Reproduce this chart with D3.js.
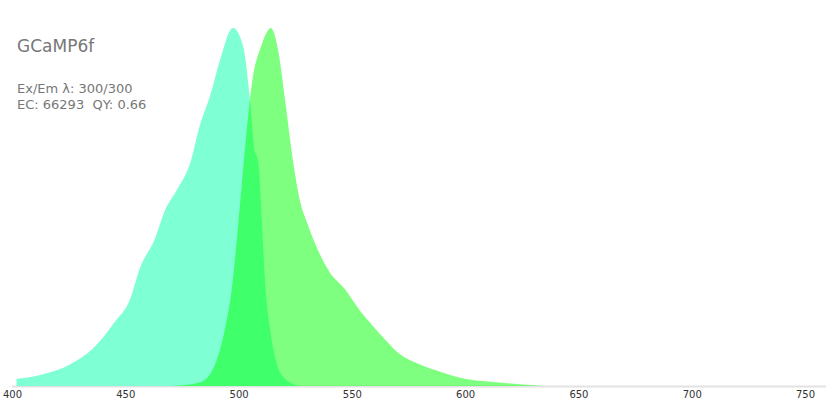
<!DOCTYPE html>
<html><head><meta charset="utf-8">
<script src="https://cdn.jsdelivr.net/npm/d3@7"></script>
<style>body{margin:0;background:#fff}text{font-family:"DejaVu Sans",sans-serif}</style>
</head><body><div id="chart"></div>
<script>
const exWl = [402,412,425.6,436.6,445.5,452,456.5,463,467.5,473,478.5,483,487.4,491.8,497.5,502,505,507,508.6,510.3,511.6,513.9,516.5,520.5,527];
const exVal = [0.02,0.03,0.06,0.11,0.18,0.24,0.33,0.41,0.49,0.55,0.62,0.73,0.81,0.91,1,0.95,0.80,0.66,0.63,0.46,0.30,0.16,0.07,0.02,0];
const emWl = [470,483,489.6,494,497,499.7,502.8,506,510,514.3,517.4,520.5,524,527,530.6,535,540,547,553.6,559,564.6,571,580,589,600,615,635];
const emVal = [0,0.01,0.06,0.16,0.27,0.44,0.66,0.85,0.95,1,0.94,0.80,0.63,0.52,0.45,0.38,0.32,0.27,0.21,0.17,0.13,0.09,0.06,0.04,0.02,0.01,0];
const ticks = [400,450,500,550,600,650,700,750];

const W = 840, H = 420;
const svg = d3.select('#chart').append('svg').attr('width', W).attr('height', H);
const x = d3.scaleLinear().domain([400, 750]).range([12, 805]);
const y = d3.scaleLinear().domain([0, 1]).range([386, 28]);

svg.append('line').attr('x1', 12).attr('x2', 826).attr('y1', 386.5).attr('y2', 386.5)
  .attr('stroke', '#e2e2e2').attr('stroke-width', 2);

const area = d3.area().x(d => x(d[0])).y0(y(0)).y1(d => y(d[1])).curve(d3.curveMonotoneX);
svg.append('path').datum(d3.zip(exWl, exVal)).attr('d', area).attr('fill', '#7fffd4');
svg.append('path').datum(d3.zip(emWl, emVal)).attr('d', area).attr('fill', 'rgb(0,255,0)').attr('fill-opacity', 0.5);

const ax = svg.append('g').attr('transform', 'translate(0,387)')
  .call(d3.axisBottom(x).tickValues(ticks).tickSize(0).tickPadding(4));
ax.select('.domain').remove();
ax.selectAll('text').attr('fill', '#333').attr('font-size', 10);

svg.append('text').attr('x', 17).attr('y', 52).attr('fill', '#777').attr('font-size', 17).text('GCaMP6f');
svg.append('text').attr('x', 17).attr('y', 93).attr('fill', '#777').attr('font-size', 13).text('Ex/Em λ: 300/300');
svg.append('text').attr('x', 17).attr('y', 109).attr('fill', '#777').attr('font-size', 13).attr('xml:space','preserve').style('white-space','pre').text('EC: 66293  QY: 0.66');
</script></body></html>
